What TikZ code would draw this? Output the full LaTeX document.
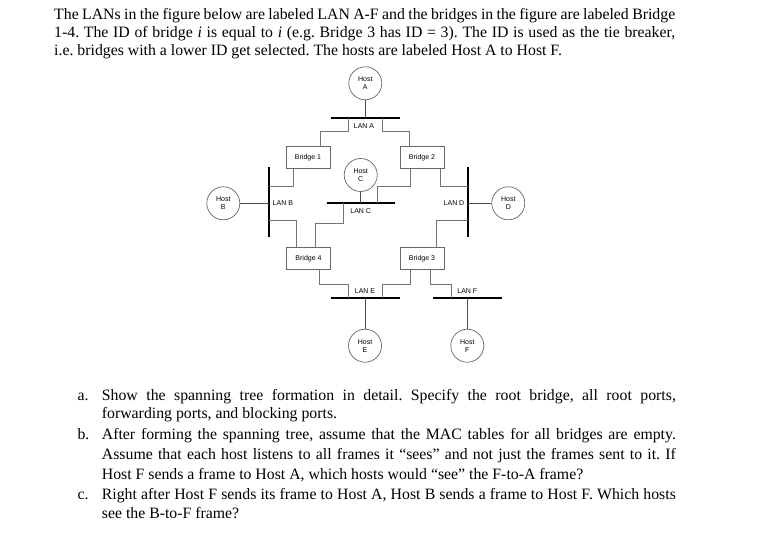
\documentclass[tikz,border=0pt]{standalone}
\usepackage{fontspec}
\setmainfont{Liberation Serif}
\newfontfamily\diagfont{Liberation Sans}
\frenchspacing

\begin{document}
\begin{tikzpicture}[x=1pt,y=-1pt,
  lan/.style={line width=2.2pt},
  link/.style={draw=black!55,line width=0.8pt},
  hostlink/.style={draw=black!70,line width=0.8pt},
  host/.style={circle,draw=black!60,line width=0.7pt,minimum size=33pt,inner sep=0pt,align=center,font=\diagfont\fontsize{7}{8}\selectfont},
  bridge/.style={rectangle,draw=black!60,line width=0.7pt,minimum width=44pt,minimum height=22pt,inner sep=0pt,font=\diagfont\fontsize{7}{8}\selectfont},
  lanlabel/.style={inner sep=0pt,font=\diagfont\fontsize{7}{8}\selectfont},
  txt/.style={anchor=base west,inner sep=0pt,font=\fontsize{15.8}{19}\selectfont}]
\useasboundingbox (0,0) rectangle (768,559);
\node[txt] (t1) at (54,19.3) {\makebox[621pt][s]{The LANs in the figure below are labeled LAN A-F and the bridges in the figure are labeled Bridge}};
\node[txt] (t2) at (54,37.7) {\makebox[621pt][s]{1-4. The ID of bridge \textit{i} is equal to \textit{i} (e.g. Bridge 3 has ID = 3). The ID is used as the tie breaker,}};
\node[txt] (t3) at (54,56) {i.e. bridges with a lower ID get selected. The hosts are labeled Host A to Host F.};
\node[host] (hA) at (365.3,83.3) {Host\\A};
\node[host] (hB) at (223.3,203.3) {Host\\B};
\node[host] (hC) at (360.7,175) {Host\\C};
\node[host] (hD) at (508.3,203.3) {Host\\D};
\node[host] (hE) at (365,345.7) {Host\\E};
\node[host] (hF) at (467.3,345.7) {Host\\F};
\node[bridge] (b1) at (308,157.5) {Bridge 1};
\node[bridge] (b2) at (422,157.5) {Bridge 2};
\node[bridge] (b3) at (422,258.3) {Bridge 3};
\node[bridge] (b4) at (308.5,258.3) {Bridge 4};
\draw[lan] (330.7,118.3) -- (400,118.3);
\draw[lan] (269,167.3) -- (269,236.7);
\draw[lan] (326.7,203.3) -- (395,203.3);
\draw[lan] (467.7,167.3) -- (467.7,236.7);
\draw[lan] (330.7,298.3) -- (400,298.3);
\draw[lan] (433.3,298.3) -- (502.3,298.3);
\node[lanlabel] (lA) at (364,126) {LAN A};
\node[lanlabel,anchor=west] (lB) at (272.5,203.3) {LAN B};
\node[lanlabel] (lC) at (360.7,210.7) {LAN C};
\node[lanlabel,anchor=east] (lD) at (464.5,203.3) {LAN D};
\node[lanlabel] (lE) at (365,291) {LAN E};
\node[lanlabel] (lF) at (467.3,291) {LAN F};
\coordinate (pA1) at (348.7,118.3);
\coordinate (pA2) at (382,118.3);
\coordinate (pAh) at (365.3,118.3);
\coordinate (pB1) at (269,186);
\coordinate (pB2) at (269,220.7);
\coordinate (pBh) at (269,203.3);
\coordinate (pC1) at (343.3,203.3);
\coordinate (pC2) at (377.3,203.3);
\coordinate (pCh) at (360.7,203.3);
\coordinate (pD1) at (467.7,186);
\coordinate (pD2) at (467.7,220.7);
\coordinate (pDh) at (467.7,203.3);
\coordinate (pE1) at (348.3,298.3);
\coordinate (pE2) at (382.3,298.3);
\coordinate (pEh) at (365,298.3);
\coordinate (pF1) at (451,298.3);
\coordinate (pFh) at (467.3,298.3);
\draw[link] (pA1) -- ++(0,13.4) -| ([xshift=12pt]b1.north);
\draw[link] (pA2) -- ++(0,13.4) -| ([xshift=-13pt]b2.north);
\draw[link] ([xshift=-15pt]b1.south) |- (pB1);
\draw[link] ([xshift=-12pt]b2.south) -- ++(0,17.5) -| (pC2);
\draw[link] ([xshift=18pt]b2.south) |- (pD1);
\draw[link] (pB2) -| ([xshift=-12pt]b4.north);
\draw[link] (pC1) -- ++(0,20) -| ([xshift=7pt]b4.north);
\draw[link] (pD2) -| ([xshift=14pt]b3.north);
\draw[link] ([xshift=11pt]b4.south) -- ++(0,15) -| (pE1);
\draw[link] ([xshift=-12pt]b3.south) -- ++(0,15) -| (pE2);
\draw[link] ([xshift=8pt]b3.south) -- ++(0,15) -| (pF1);
\draw[hostlink] (hA) -- (pAh);
\draw[hostlink] (hB) -- (pBh);
\draw[hostlink] (hC) -- (pCh);
\draw[hostlink] (hD) -- (pDh);
\draw[hostlink] (hE) -- (pEh);
\draw[hostlink] (hF) -- (pFh);
\node[txt] (qa) at (77.3,400) {a.};
\node[txt] (qa1) at (101.7,400) {\makebox[574pt][s]{Show the spanning tree formation in detail. Specify the root bridge, all root ports,}};
\node[txt] (qa2) at (101.7,418.3) {forwarding ports, and blocking ports.};
\node[txt] (qb) at (77.3,439) {b.};
\node[txt] (qb1) at (101.7,439) {\makebox[574pt][s]{After forming the spanning tree, assume that the MAC tables for all bridges are empty.}};
\node[txt] (qb2) at (101.7,459) {\makebox[574pt][s]{Assume that each host listens to all frames it “sees” and not just the frames sent to it. If}};
\node[txt] (qb3) at (101.7,479) {Host F sends a frame to Host A, which hosts would “see” the F-to-A frame?};
\node[txt] (qc) at (77.3,499) {c.};
\node[txt] (qc1) at (101.7,499) {\makebox[574pt][s]{Right after Host F sends its frame to Host A, Host B sends a frame to Host F. Which hosts}};
\node[txt] (qc2) at (101.7,518.3) {see the B-to-F frame?};
\end{tikzpicture}
\end{document}
